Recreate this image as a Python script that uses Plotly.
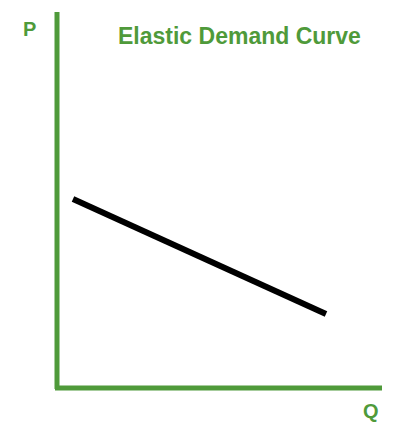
import plotly.graph_objects as go

quantity = [72, 325]
price = [245, 130]
title_text = "Elastic Demand Curve"
green = "#4f9a3a"

fig = go.Figure(go.Scatter(x=quantity, y=price, mode="lines",
                           line=dict(color="black", width=6), showlegend=False))
fig.add_shape(type="line", x0=56, x1=56, y0=55, y1=432, line=dict(color=green, width=5))
fig.add_shape(type="line", x0=54, x1=381, y0=56, y1=56, line=dict(color=green, width=5))
fig.add_annotation(x=238, y=408, text="<b>" + title_text + "</b>", showarrow=False,
                   font=dict(family="Liberation Sans", size=23, color=green))
fig.add_annotation(x=28, y=415, text="<b>P</b>", showarrow=False,
                   font=dict(family="Liberation Sans", size=20, color=green))
fig.add_annotation(x=370, y=33, text="<b>Q</b>", showarrow=False,
                   font=dict(family="Liberation Sans", size=20, color=green))
fig.update_layout(width=400, height=443, margin=dict(l=0, r=0, t=0, b=0),
                  plot_bgcolor="white", paper_bgcolor="white",
                  xaxis=dict(range=[7, 407], visible=False),
                  yaxis=dict(range=[-7, 436], visible=False))
fig.write_html("out.html")
